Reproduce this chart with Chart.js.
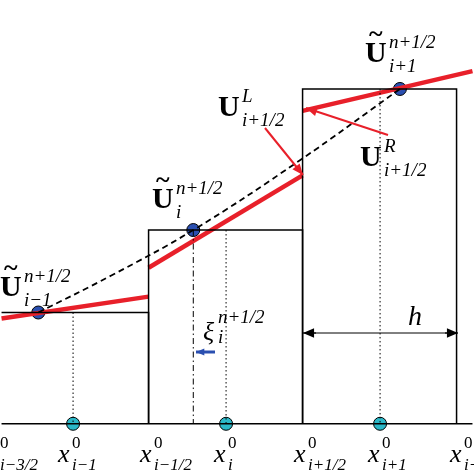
<!DOCTYPE html>
<html><head><meta charset="utf-8">
<script src="https://cdn.jsdelivr.net/npm/chart.js@4"></script>
<style>html,body{margin:0;padding:0;background:#fff}#c{width:474px;height:474px}</style>
</head><body><div id="c"><canvas id="cv"></canvas></div>
<script>
// diagram coordinates (pixel-like units, y down)
const edges = [0, 148, 303, 458];
const centers = [72, 226, 381];
const cellTops = [313, 230, 88];
const axisY = 425;
const nodes = [[37, 313], [193, 230], [401, 88]];
const redSegs = [[[0, 319], [148, 297]], [[148, 268], [303, 175]], [[303, 110], [474, 70]]];
const dashed = [[37, 313], [110, 276], [193, 230], [300, 160], [401, 88]];

const pts = a => a.map(p => ({ x: p[0], y: p[1] }));
const ds = [];
// cell boxes
cellTops.forEach((t, i) => ds.push({ data: pts([[edges[i], axisY], [edges[i], t], [edges[i + 1], t], [edges[i + 1], axisY]]), borderColor: '#000', borderWidth: 1.5 }));
ds.push({ data: pts([[0, axisY], [474, axisY]]), borderColor: '#000', borderWidth: 1.5 });
centers.forEach((c, i) => ds.push({ data: pts([[c, cellTops[i]], [c, axisY]]), borderColor: '#000', borderWidth: 1, borderDash: [1.5, 2.5] }));
ds.push({ data: pts([[193, 230], [193, axisY]]), borderColor: '#000', borderWidth: 1, borderDash: [6, 3, 1.5, 3] });
ds.push({ data: pts(dashed), borderColor: '#000', borderWidth: 1.8, borderDash: [6, 4], tension: 0.4 });
redSegs.forEach(s => ds.push({ data: pts(s), borderColor: '#e8202a', borderWidth: 4.5 }));
ds.push({ data: pts(nodes), showLine: false, pointRadius: 6.5, pointBackgroundColor: '#2a4fb0', pointBorderColor: '#000', pointBorderWidth: 1 });
ds.push({ data: pts(centers.map(c => [c, axisY])), showLine: false, pointRadius: 6.5, pointBackgroundColor: '#2bb8c8', pointBorderColor: '#000', pointBorderWidth: 1 });
ds.forEach(d => {
  if (d.pointRadius === undefined) { d.pointRadius = 0; d.showLine = true; }
  d.fill = false; d.clip = false;
});

function arrow(ctx, x1, y1, x2, y2, col, w, head) {
  ctx.save(); ctx.strokeStyle = col; ctx.fillStyle = col; ctx.lineWidth = w;
  ctx.beginPath(); ctx.moveTo(x1, y1); ctx.lineTo(x2, y2); ctx.stroke();
  const a = Math.atan2(y2 - y1, x2 - x1);
  ctx.beginPath(); ctx.moveTo(x2, y2);
  ctx.lineTo(x2 - head * Math.cos(a - 0.4), y2 - head * Math.sin(a - 0.4));
  ctx.lineTo(x2 - head * Math.cos(a + 0.4), y2 - head * Math.sin(a + 0.4));
  ctx.closePath(); ctx.fill(); ctx.restore();
}
function xLabel(ctx, x, y, sub) {
  ctx.font = 'italic 26px "Liberation Serif"'; ctx.textAlign = 'left'; ctx.fillText('x', x, y);
  ctx.font = '17px "Liberation Serif"'; ctx.fillText('0', x + 14, y - 14);
  ctx.font = 'italic 17px "Liberation Serif"'; ctx.fillText(sub, x + 14, y + 8);
}
function uLabel(ctx, x, y, sup, sub, tilde) {
  ctx.font = 'bold 30px "Liberation Serif"'; ctx.textAlign = 'left'; ctx.fillText('U', x, y);
  if (tilde) { ctx.font = 'bold 26px "Liberation Serif"'; ctx.fillText('~', x + 4, y - 20); }
  ctx.font = 'italic 19px "Liberation Serif"'; ctx.fillText(sup, x + 24, y - 14);
  ctx.fillText(sub, x + 24, y + 10);
}
const overlay = {
  id: 'overlay',
  afterDatasetsDraw(chart) {
    const ctx = chart.ctx; ctx.fillStyle = '#000';
    arrow(ctx, 265, 128, 303, 175, '#e8202a', 2, 12);
    arrow(ctx, 388, 135, 306, 108, '#e8202a', 2, 12);
    arrow(ctx, 316, 333, 303, 333, '#000', 1.2, 12);
    arrow(ctx, 445, 333, 458, 333, '#000', 1.2, 12);
    ctx.beginPath(); ctx.moveTo(306, 333); ctx.lineTo(455, 333); ctx.stroke();
    arrow(ctx, 215, 352, 196, 352, '#2a4fb0', 3, 9);
    ctx.font = 'italic 28px "Liberation Serif"'; ctx.textAlign = 'left'; ctx.fillText('h', 408, 325);
    ctx.font = 'italic 26px "Liberation Serif"'; ctx.fillText('ξ', 203, 340);
    ctx.font = 'italic 19px "Liberation Serif"'; ctx.fillText('n+1/2', 218, 323); ctx.fillText('i', 218, 343);
    uLabel(ctx, 0, 296, 'n+1/2', 'i\u22121', true);
    uLabel(ctx, 152, 208, 'n+1/2', 'i', true);
    uLabel(ctx, 365, 62, 'n+1/2', 'i+1', true);
    uLabel(ctx, 218, 116, 'L', 'i+1/2', false);
    uLabel(ctx, 360, 166, 'R', 'i+1/2', false);
    xLabel(ctx, -14, 462, 'i\u22123/2');
    xLabel(ctx, 58, 462, 'i\u22121');
    xLabel(ctx, 140, 462, 'i\u22121/2');
    xLabel(ctx, 214, 462, 'i');
    xLabel(ctx, 294, 462, 'i+1/2');
    xLabel(ctx, 368, 462, 'i+1');
    xLabel(ctx, 450, 462, 'i+3/2');
  }
};
new Chart(document.getElementById('cv'), {
  type: 'scatter',
  data: { datasets: ds },
  plugins: [overlay],
  options: {
    responsive: true, maintainAspectRatio: false, animation: false,
    layout: { padding: 0 },
    plugins: { legend: { display: false }, tooltip: { enabled: false } },
    scales: {
      x: { type: 'linear', min: 6, max: 468, display: false },
      y: { type: 'linear', min: 6, max: 468, reverse: true, display: false }
    }
  }
});
</script></body></html>
